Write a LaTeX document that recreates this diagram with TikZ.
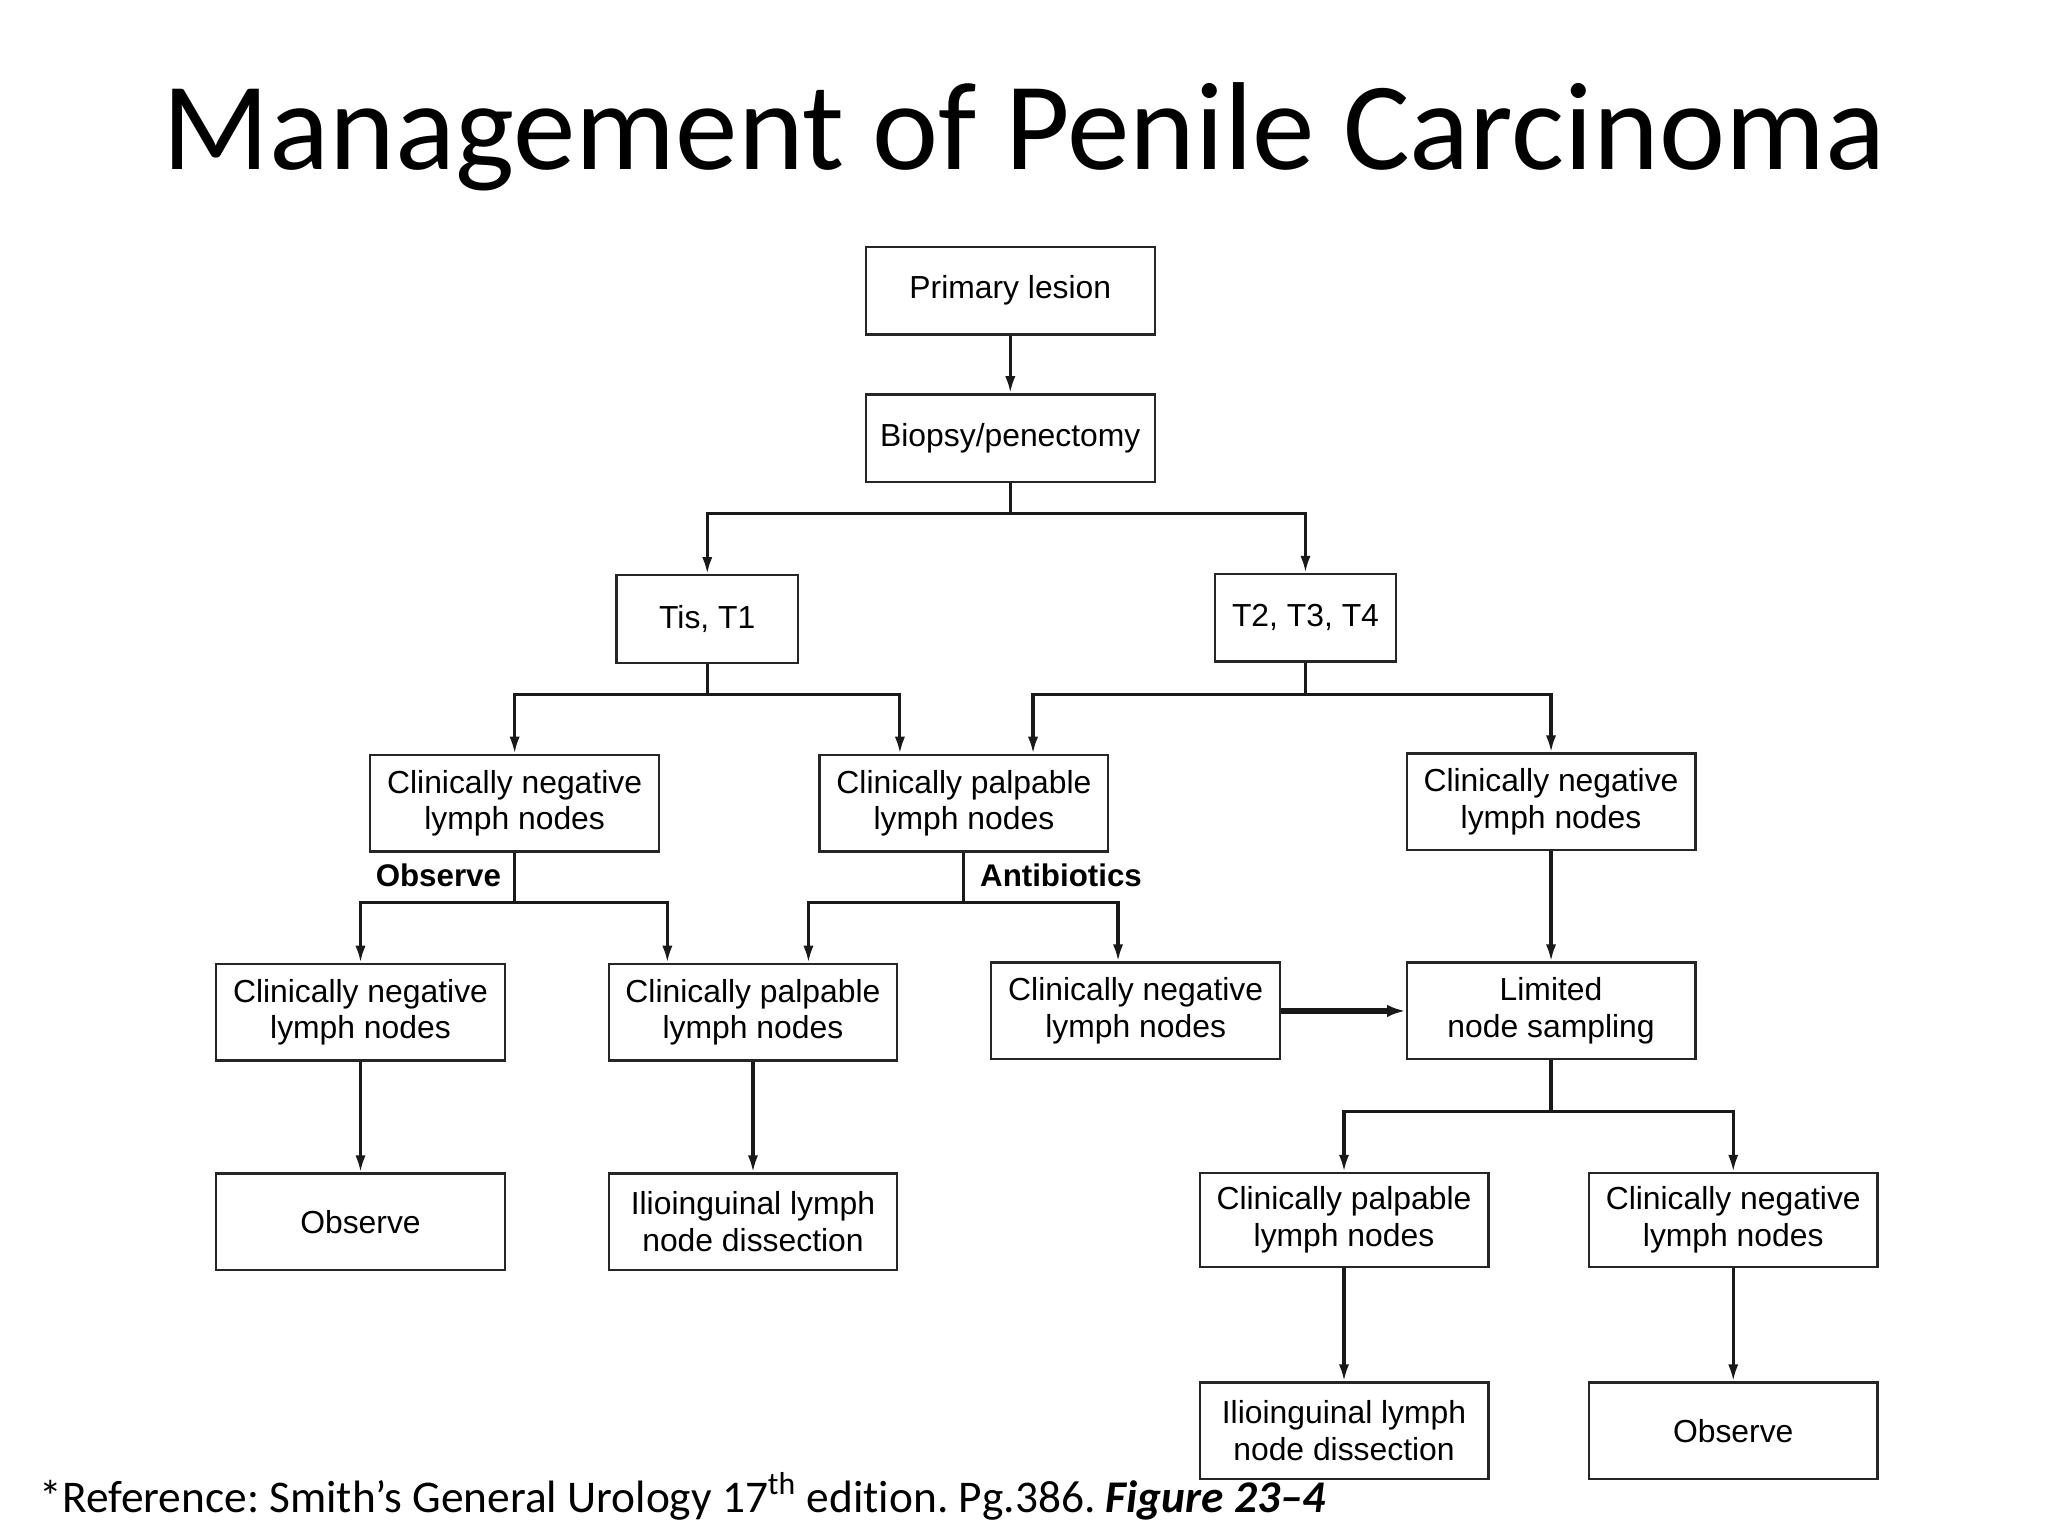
\documentclass[tikz,border=0pt]{standalone}
\usepackage{fontspec}
\setmainfont[Ligatures=NoCommon]{Carlito}
\newfontfamily\dgm{Liberation Sans}
\usetikzlibrary{arrows.meta,calc}
\begin{document}
\frenchspacing
\begin{tikzpicture}[x=0.4592pt,y=-0.4592pt,
  box/.style={draw=black!85, line width=0.8pt, fill=white, inner sep=0pt, align=center,
    minimum width=101.5pt, minimum height=34pt, font=\dgm\fontsize{11.2}{12.9}\selectfont},
  sbox/.style={box, minimum height=30.8pt},
  ln/.style={line width=1.1pt, draw=black!90},
  arr/.style={ln, -{Latex[length=6pt,width=3.6pt]}},
  barr/.style={line width=1.8pt, draw=black!90, -{Latex[length=6.5pt,width=4.4pt]}},
  lab/.style={inner sep=0pt, font=\dgm\bfseries\fontsize{11}{13}\selectfont}]
\useasboundingbox (0,0) rectangle (1568,1176);

% title and reference
\node[inner sep=0pt, anchor=base, font=\fontsize{44}{50}\selectfont] (title) at (784,130) {Management of Penile Carcinoma};
\node[inner sep=0pt, anchor=base west, font=\fontsize{15.95}{19}\selectfont] (ref) at (30,1158)
  {*Reference: Smith’s General Urology 17\textsuperscript{th} edition. Pg.386. \textbf{\textit{Figure 23–4}}};

% boxes
\node[sbox] (pri) at (773.5,222.5) {Primary lesion};
\node[sbox] (bio) at (773.5,335.5) {Biopsy/penectomy};
\node[sbox, minimum width=63.8pt] (tis) at (541.5,474) {Tis, T1};
\node[sbox, minimum width=63.8pt] (t2) at (999.5,473) {T2, T3, T4};
\node[box] (cnA) at (394,615) {Clinically negative\\lymph nodes};
\node[box] (cpA) at (738,615) {Clinically palpable\\lymph nodes};
\node[box] (cnB) at (1187.5,614) {Clinically negative\\lymph nodes};
\node[box] (cnC) at (276,775) {Clinically negative\\lymph nodes};
\node[box] (cpC) at (576.5,775) {Clinically palpable\\lymph nodes};
\node[box] (cnD) at (869.5,774) {Clinically negative\\lymph nodes};
\node[box] (lim) at (1187.5,774) {Limited\\node sampling};
\node[box] (obA) at (276,935.5) {Observe};
\node[box] (ilA) at (576.5,935.5) {Ilioinguinal lymph\\node dissection};
\node[box, minimum height=33pt] (cpE) at (1029,934) {Clinically palpable\\lymph nodes};
\node[box, minimum height=33pt] (cnE) at (1327,934) {Clinically negative\\lymph nodes};
\node[box] (ilB) at (1029,1095.5) {Ilioinguinal lymph\\node dissection};
\node[box] (obB) at (1327,1095.5) {Observe};

% labels
\node[lab, anchor=base east] (lobs) at (384,679) {Observe};
\node[lab, anchor=base west] (lant) at (750,679) {Antibiotics};

% junctions
\coordinate (j1) at (773.5,393);
\coordinate (j2) at (541.5,532);
\coordinate (j3) at (999.5,532);
\coordinate (j4) at (394,691);
\coordinate (j5) at (738,691);
\coordinate (j6) at (1187.5,851);

% connectors
\draw[arr] (pri) -- (bio);
\draw[ln] (bio.south) -- (j1);
\draw[arr] (j1) -| (tis.north);
\draw[arr] (j1) -| (t2.north);

\draw[ln] (tis.south) -- (j2);
\draw[arr] (j2) -| (cnA.north);
\draw[arr] (j2) -| ([xshift=-22.5pt]cpA.north);
\draw[ln] (t2.south) -- (j3);
\draw[arr] (j3) -| ([xshift=24.3pt]cpA.north);
\draw[arr] (j3) -| (cnB.north);

\draw[ln] (cnA.south) -- (j4);
\draw[arr] (j4) -| (cnC.north);
\draw[arr] (j4) -| ([xshift=-30.1pt]cpC.north);
\draw[ln] (cpA.south) -- (j5);
\draw[arr] (j5) -| ([xshift=19.5pt]cpC.north);
\draw[arr] (j5) -| ([xshift=-6.2pt]cnD.north);

\draw[arr] (cnB) -- (lim);
\draw[barr] (cnD) -- (lim);

\draw[arr] (cnC) -- (obA);
\draw[arr] (cpC) -- (ilA);

\draw[ln] (lim.south) -- (j6);
\draw[arr] (j6) -| (cpE.north);
\draw[arr] (j6) -| (cnE.north);
\draw[arr] (cpE) -- (ilB);
\draw[arr] (cnE) -- (obB);
\end{tikzpicture}
\end{document}
